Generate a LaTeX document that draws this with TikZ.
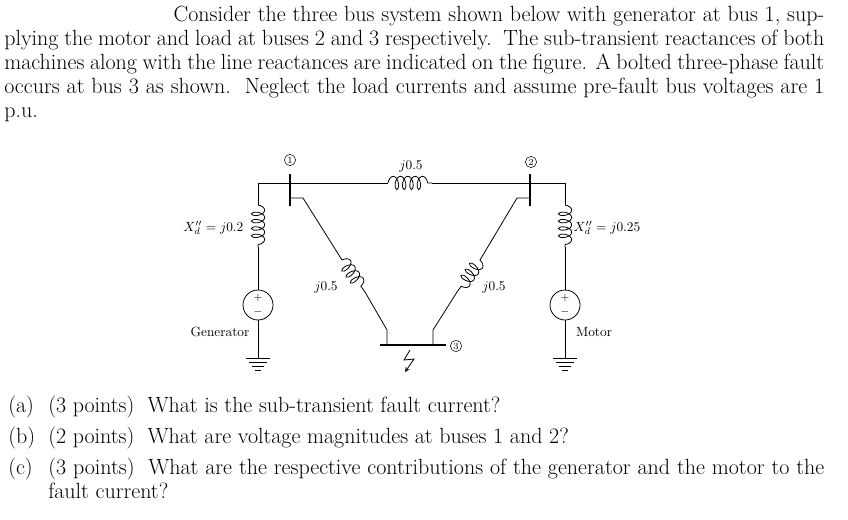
\documentclass[tikz,border=0pt]{standalone}
\usetikzlibrary{decorations.pathmorphing,positioning}
\tikzset{
  wire/.style={line width=0.6pt},
  coilv/.style={wire, decoration={coil, aspect=0.5, segment length=5.5pt, amplitude=5pt, pre length=0pt, post length=0pt}, decorate},
  busbar/.style={line width=1pt},
  busno/.style={circle, draw, inner sep=0.8pt, font=\scriptsize},
  src/.style={circle, draw, wire, minimum size=22.5pt, inner sep=0pt},
  txt/.style={anchor=north west, inner sep=0pt, font=\fontsize{16.5}{18}\selectfont, align=justify}
}
\newcommand{\groundsym}[1]{%
  \draw[wire] (#1) ++(-12,0) -- ++(24,0);
  \draw[wire] (#1) ++(-9,4) -- ++(18,0);
  \draw[wire] (#1) ++(-6,8) -- ++(12,0);
  \draw[wire] (#1) ++(-3,12) -- ++(6,0);}
\begin{document}
\begin{tikzpicture}[x=0.75pt,y=-0.75pt]
\useasboundingbox (0,0) rectangle (848,520);
% question text
\node(intro)[txt, text width=615pt] at (4,6) {\hspace*{127pt}Consider the three bus system shown below with generator at bus 1, supplying the motor and load at buses 2 and 3 respectively.\ \ The sub-transient reactances of both machines along with the line reactances are indicated on the figure. A bolted three-phase fault occurs at bus 3 as shown.\ \ Neglect the load currents and assume pre-fault bus voltages are 1 p.u.};
% buses
\coordinate(b1t) at (290,174); \coordinate(b1b) at (290,206);
\coordinate(b2t) at (530,174); \coordinate(b2b) at (530,206);
\draw[busbar](b1t)--(b1b);
\draw[busbar](b2t)--(b2b);
\draw[busbar, line width=1.5pt](380,345)--(446,345);
\node(n1)[busno] at (290,160) {1};
\node(n2)[busno] at (531,162) {2};
\node(n3)[busno] at (456,346) {3};
% top line
\draw[wire](258,183)--(388,183);
\draw[coilv](388,183)--(432,183);
\draw[wire](432,183)--(565,183);
\node(x12) at (411,166) {$j0.5$};
% generator branch
\draw[wire](258,183)--(258,205);
\draw[coilv](258,205)--(258,247);
\draw[wire](258,247)--(258,290);
\node(gen)[src] at (258,305) {};
\node[font=\footnotesize] at (258,298) {$+$};
\node[font=\footnotesize] at (258,312) {$-$};
\draw[wire](258,320)--(258,358);
\groundsym{258,358}
\node(xg)[anchor=east] at (248,228) {$X_d''=j0.2$};
\node(gl) at (220,332) {Generator};
% motor branch
\draw[wire](565,183)--(565,205);
\draw[coilv](565,205)--(565,247);
\draw[wire](565,247)--(565,290);
\node(mot)[src] at (565,305) {};
\node[font=\footnotesize] at (565,298) {$+$};
\node[font=\footnotesize] at (565,312) {$-$};
\draw[wire](565,320)--(565,358);
\groundsym{565,358}
\node(xm)[anchor=west,inner sep=1pt] at (572,228) {$X_d''=j0.25$};
\node(ml) at (594,332) {Motor};
% line 1-3
\draw[wire](290,198)--(303,198)--(342,260);
\draw[coilv](342,260)--(365,292);
\draw[wire](365,292)--(387,330)--(387,345);
\node(x13) at (326,287) {$j0.5$};
% line 2-3
\draw[wire](530,198)--(517,198)--(480,260);
\draw[coilv](480,260)--(457,292);
\draw[wire](457,292)--(433,330)--(433,345);
\node(x23) at (494,287) {$j0.5$};
% fault
\draw[wire,-stealth](410,350)--(404,360)--(414,359)--(405,372);
% questions
\node(qa)[txt] at (8,396) {(a)};
\node(ta)[txt, text width=582pt] at (48,396) {(3 points)\ \ What is the sub-transient fault current?};
\node(qb)[txt] at (8,427) {(b)};
\node(tb)[txt, text width=582pt] at (48,427) {(2 points)\ \ What are voltage magnitudes at buses 1 and 2?};
\node(qc)[txt] at (8,458) {(c)};
\node(tc)[txt, text width=582pt] at (48,458) {(3 points)\ \ What are the respective contributions of the generator and the motor to the fault current?};
\end{tikzpicture}
\end{document}
